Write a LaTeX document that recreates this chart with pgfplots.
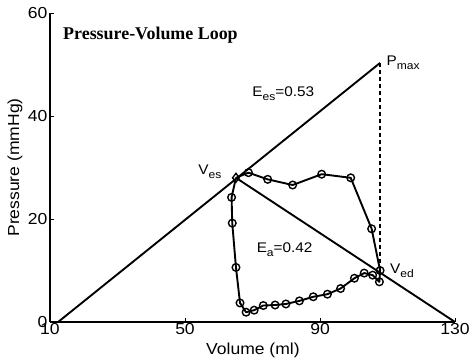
\documentclass[border=0pt]{standalone}
\usepackage{pgfplots}
\pgfplotsset{compat=1.18}
\usepackage{fontspec}
\setmainfont{Liberation Sans}[FakeStretch=1.1]
\newfontfamily\titlefont{Liberation Serif}
\newcommand{\sub}[1]{\raisebox{-4bp}{\fontsize{11}{11}\selectfont #1}}
\begin{document}
\begin{tikzpicture}
\path[use as bounding box] (0,0) rectangle (474bp,364bp);
\begin{axis}[
  at={(50bp,42bp)}, anchor=south west,
  scale only axis, width=405bp, height=309bp,
  xmin=10, xmax=130, ymin=0, ymax=60,
  xtick={10,50,90,130}, ytick={0,20,40,60},
  axis x line*=bottom, axis y line*=left,
  axis line style={-, line width=1.1pt},
  major tick length=4bp,
  tick style={black, line width=0.9pt},
  tick align=inside,
  /pgf/number format/assume math mode=true,
  ticklabel style={font=\fontsize{16}{16}\selectfont},
  xticklabel style={yshift=2bp},
  yticklabel style={xshift=1bp},
  xlabel={Volume (ml)}, ylabel={Pressure (mmHg)},
  label style={font=\fontsize{16}{16}\selectfont},
  xlabel style={at={(axis description cs:0.501,-0.0906)}, anchor=center},
  ylabel style={at={(axis description cs:-0.0864,0.5)}, anchor=center, rotate=0},
  clip=false,
]
% ESPVR line
\addplot[black, line width=1.9pt] coordinates {(12.4,0) (107.8,50.3)};
% dashed vertical
\addplot[black, line width=1.9pt, dash pattern=on 4bp off 3bp] coordinates {(107.8,50.3) (107.8,10.0)};
% Ea line
\addplot[black, line width=1.9pt] coordinates {(65.1,28.0) (130,0)};
% loop line
\addplot[black, line width=1.9pt, line join=round] coordinates {
(65.1,28.0) (68.8,29.0) (74.5,27.7) (81.9,26.6) (90.5,28.7) (99.1,28.0)
(105.3,18.1) (107.8,10.0) (107.6,7.8) (105.6,9.1) (103.1,9.5) (100.2,8.5)
(96.1,6.5) (92.2,5.4) (88.0,4.9) (83.9,4.1) (79.9,3.5) (76.7,3.3) (73.2,3.2)
(70.5,2.3) (68.1,1.9) (66.3,3.7) (65.1,10.6) (64.0,19.2) (63.8,24.2) (65.1,28.0)};
% loop markers
\addplot[black, only marks, mark=o, mark size=3.8bp, mark options={line width=1.4pt}] coordinates {
(68.8,29.0) (74.5,27.7) (81.9,26.6) (90.5,28.7) (99.1,28.0)
(105.3,18.1) (107.8,10.0) (107.6,7.8) (105.6,9.1) (103.1,9.5) (100.2,8.5)
(96.1,6.5) (92.2,5.4) (88.0,4.9) (83.9,4.1) (79.9,3.5) (76.7,3.3) (73.2,3.2)
(70.5,2.3) (68.1,1.9) (66.3,3.7) (65.1,10.6) (64.0,19.2) (63.8,24.2)};
% Ves diamond
\addplot[black, only marks, mark=diamond, mark size=4.5bp, mark options={line width=1.4pt}] coordinates {(65.1,28.0)};
% annotations
\node[anchor=base west, inner sep=0pt, font=\titlefont\bfseries\fontsize{18}{18}\selectfont] at (axis cs:13.85,54.95) {Pressure-Volume Loop};
\node[anchor=base west, inner sep=0pt, font=\fontsize{14}{14}\selectfont] at (axis cs:69.9,43.7) {E\sub{es}=0.53};
\node[anchor=base west, inner sep=0pt, font=\fontsize{14}{14}\selectfont] at (axis cs:109.7,49.9) {P\sub{max}};
\node[anchor=base west, inner sep=0pt, font=\fontsize{14}{14}\selectfont] at (axis cs:53.9,28.7) {V\sub{es}};
\node[anchor=base west, inner sep=0pt, font=\fontsize{14}{14}\selectfont] at (axis cs:71.2,13.4) {E\sub{a}=0.42};
\node[anchor=base west, inner sep=0pt, font=\fontsize{14}{14}\selectfont] at (axis cs:110.7,9.5) {V\sub{ed}};
\end{axis}
\end{tikzpicture}
\end{document}
